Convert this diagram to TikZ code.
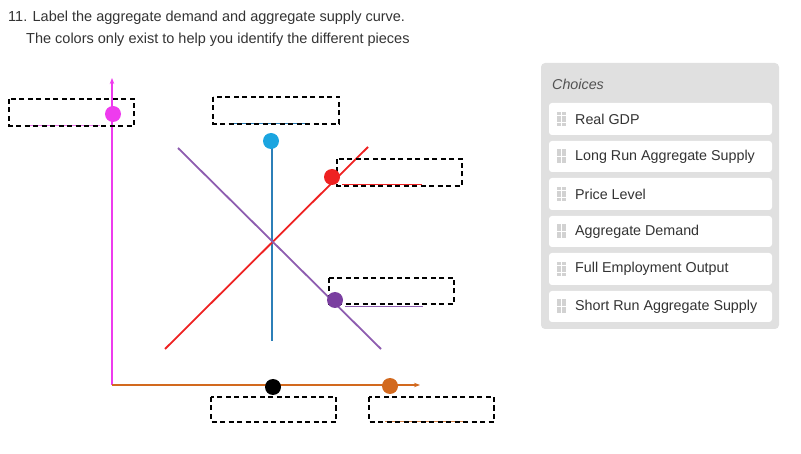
\documentclass[tikz,border=0pt]{standalone}
\usepackage{fontspec}
\setmainfont{Liberation Sans}
\usetikzlibrary{arrows.meta}
\definecolor{mag}{HTML}{EE3BEE}
\definecolor{bl}{HTML}{1BA5E0}
\definecolor{blline}{HTML}{2C7FB8}
\definecolor{rd}{HTML}{EE2222}
\definecolor{pu}{HTML}{7A3EA0}
\definecolor{pul}{HTML}{8E5DB0}
\definecolor{org}{HTML}{D2691E}
\definecolor{panel}{HTML}{E0E0E0}
\definecolor{txt}{HTML}{333333}
\tikzset{x=1pt,y=-1pt,
 lbox/.style={draw=black,line width=2pt,dash pattern=on 5pt off 3.5pt},
 dot/.style={circle,inner sep=0pt,minimum size=16pt},
 itxt/.style={anchor=west,font=\fontsize{14.3}{17}\selectfont,text=txt,inner sep=0pt}}
\begin{document}
\begin{tikzpicture}
\useasboundingbox (0,0) rectangle (801,454);
\node[anchor=west,font=\fontsize{14.5}{17}\selectfont,text=txt,inner sep=0pt] (t1) at (8,18) {11. Label the aggregate demand and aggregate supply curve.};
\node[anchor=west,font=\fontsize{14.5}{17}\selectfont,text=txt,inner sep=0pt] (t2) at (26,40) {The colors only exist to help you identify the different pieces};
% axes
\coordinate (o) at (112,385);
\coordinate (ytop) at (112,78);
\coordinate (xr) at (420,385);
\draw[mag,line width=1.8pt,-{Stealth[length=6pt]}] (o) -- (ytop);
\draw[org,line width=1.8pt,-{Stealth[length=6pt]}] (o) -- (xr);
% curves
\coordinate (lt) at (272,141); \coordinate (lb) at (272,341);
\draw[blline,line width=1.8pt] (lt) -- (lb);
\coordinate (s1) at (165,349); \coordinate (s2) at (368,147);
\draw[rd,line width=1.8pt] (s1) -- (s2);
\coordinate (d1) at (178,148); \coordinate (d2) at (381,349);
\draw[pul,line width=1.8pt] (d1) -- (d2);
% underlines
\draw[mag!70,line width=1pt] (25,126) -- (100,126);
\draw[blline,line width=1pt] (232,124) -- (310,124);
\draw[rd,line width=1pt] (342,185) -- (422,185);
\draw[pul,line width=1pt] (345,307) -- (423,307);
\draw[org!80,line width=1pt] (385,421) -- (463,421);
% boxes
\draw[lbox] (9,99) rectangle (134,126);
\draw[lbox] (213,97) rectangle (339,124);
\draw[lbox] (337,159) rectangle (462,186);
\draw[lbox] (329,278) rectangle (454,304);
\draw[lbox] (211,397) rectangle (336,422);
\draw[lbox] (369,397) rectangle (494,422);
% dots
\node[dot,fill=mag] (pm) at (113,114) {};
\node[dot,fill=bl] (pb) at (271,141) {};
\node[dot,fill=rd] (pr) at (332,177) {};
\node[dot,fill=pu] (pp) at (335,300) {};
\node[dot,fill=black] (pk) at (273,387) {};
\node[dot,fill=org] (po) at (390,386) {};
% panel
\fill[panel,rounded corners=4pt] (541,63) rectangle (779,329);
\node[anchor=west,font=\fontsize{14.3}{17}\selectfont\itshape,text=txt!85,inner sep=0pt] (ch) at (552,84) {Choices};
\foreach \ya/\yb/\t [count=\i] in {103/135/Real GDP,141/172/Long Run Aggregate Supply,178/210/Price Level,216/247/Aggregate Demand,253/285/Full Employment Output,291/322/Short Run Aggregate Supply}{
 \fill[white,rounded corners=3pt] (549,\ya) rectangle (772,\yb);
 \foreach \gx in {559,564} \foreach \gy in {-5.4,-1.8,1.8,5.4}
   \fill[gray!35] (\gx-1.6,{(\ya+\yb)/2+\gy-1.6}) rectangle ++(3.2,3.2);
 \node[itxt] (c\i) at (575,{(\ya+\yb)/2}) {\t};
}
\end{tikzpicture}
\end{document}
